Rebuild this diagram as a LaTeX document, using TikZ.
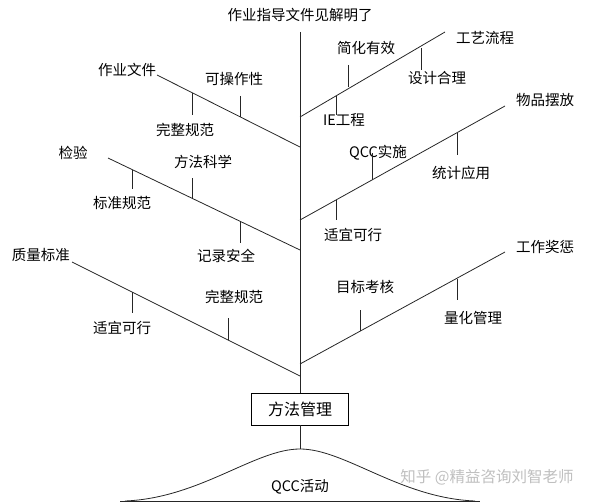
\documentclass[tikz,border=0pt]{standalone}
\usepackage{fontspec}
\setmainfont{Liberation Serif}
\newfontfamily\cjk{Noto Sans CJK SC}
\begin{document}
\begin{tikzpicture}[x=1pt,y=-1pt,
  lbl/.style={font=\cjk\fontsize{14.5}{14.5}\selectfont,inner sep=0pt},
  ln/.style={draw=black!85,line width=0.8pt}]
\useasboundingbox (0,0) rectangle (600,503);
% trunk
\node[lbl] (top) at (300,15) {作业指导文件见解明了};
\node[draw,line width=0.8pt,minimum width=97pt,minimum height=32pt,lbl,font=\cjk\fontsize{16}{16}\selectfont] (box) at (300,409) {方法管理};
\coordinate (t0) at (300,32);
\coordinate (peak) at (300,449);
\draw[ln] (t0) -- (box.north);
\draw[ln] (box.south) -- (peak);
% bell
\coordinate (bl) at (120,501); \coordinate (br) at (480,501);
\draw[ln] (bl) -- (br);
\draw[ln] (125,501) .. controls (200,498) and (255,449) .. (peak) .. controls (345,449) and (400,498) .. (475,501);
\node[lbl] (qcc) at (300,487) {QCC活动};
\node[lbl,text=black!25,font=\cjk\fontsize{15.5}{15.5}\selectfont] (wm) at (487,477) {知乎 @精益咨询刘智老师};
% left branches
\coordinate (L1a) at (157,75); \coordinate (L1b) at (300,147);
\coordinate (L2a) at (108,158); \coordinate (L2b) at (300,250);
\coordinate (L3a) at (72,262); \coordinate (L3b) at (300,376);
\draw[ln] (L1a) -- (L1b); \draw[ln] (L2a) -- (L2b); \draw[ln] (L3a) -- (L3b);
\node[lbl] (n1) at (127,70) {作业文件};
\node[lbl] (n2) at (234,79) {可操作性};
\node[lbl] (n3) at (185,130) {完整规范};
\node[lbl] (n4) at (73,153) {检验};
\node[lbl] (n5) at (203,162) {方法科学};
\node[lbl] (n6) at (122,203) {标准规范};
\node[lbl] (n7) at (226,256) {记录安全};
\node[lbl] (n8) at (41,255) {质量标准};
\node[lbl] (n9) at (234,297) {完整规范};
\node[lbl] (n10) at (122,328) {适宜可行};
\draw[ln] (240,96) -- (240,117);
\draw[ln] (192,93) -- (192,115);
\draw[ln] (132,170) -- (132,189);
\draw[ln] (192,178) -- (192,198);
\draw[ln] (240,221) -- (240,243);
\draw[ln] (132,292) -- (132,313);
\draw[ln] (228,318) -- (228,340);
% right branches
\coordinate (R1a) at (300,117); \coordinate (R1b) at (445,32);
\coordinate (R2a) at (300,220); \coordinate (R2b) at (505,106);
\coordinate (R3a) at (300,364); \coordinate (R3b) at (505,252);
\draw[ln] (R1a) -- (R1b); \draw[ln] (R2a) -- (R2b); \draw[ln] (R3a) -- (R3b);
\node[lbl] (m1) at (366,48) {简化有效};
\node[lbl] (m2) at (485,38) {工艺流程};
\node[lbl] (m3) at (437,78) {设计合理};
\node[lbl] (m4) at (344,120) {IE工程};
\node[lbl] (m5) at (545,100) {物品摆放};
\node[lbl] (m6) at (378,153) {QCC实施};
\node[lbl] (m7) at (461,173) {统计应用};
\node[lbl] (m8) at (353,235) {适宜可行};
\node[lbl] (m9) at (545,247) {工作奖惩};
\node[lbl] (m10) at (365,287) {目标考核};
\node[lbl] (m11) at (473,318) {量化管理};
\draw[ln] (348,65) -- (348,87);
\draw[ln] (421,48) -- (421,70);
\draw[ln] (336,96) -- (336,115);
\draw[ln] (372,153) -- (372,180);
\draw[ln] (457,133) -- (457,155);
\draw[ln] (336,200) -- (336,220);
\draw[ln] (360,310) -- (360,331);
\draw[ln] (457,279) -- (457,300);
\end{tikzpicture}
\end{document}
